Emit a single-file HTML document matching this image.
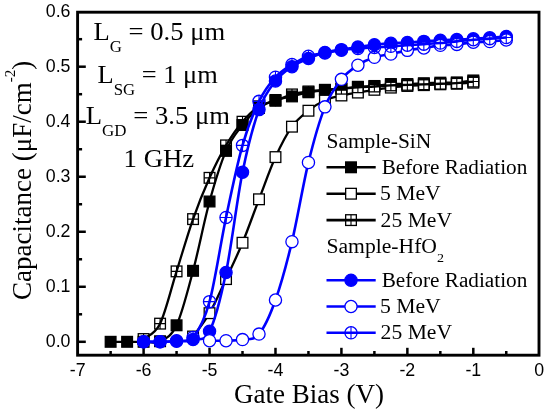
<!DOCTYPE html>
<html><head><meta charset="utf-8"><style>
html,body{margin:0;padding:0;background:#fff;}
svg{display:block;}
.tk{font-family:"Liberation Sans",Arial,sans-serif;font-size:17.8px;fill:#000;}
.lg{font-family:"Liberation Serif","Times New Roman",serif;font-size:20px;fill:#000;}
.an{font-family:"Liberation Serif","Times New Roman",serif;font-size:26px;fill:#000;}
.al{font-family:"Liberation Serif","Times New Roman",serif;font-size:27px;fill:#000;}
</style></head><body>
<svg width="550" height="411" viewBox="0 0 550 411">
<rect width="550" height="411" fill="#fff"/>
<rect x="77.6" y="12.2" width="461.4" height="343.0" fill="none" stroke="#000" stroke-width="2.9"/>
<line x1="77.6" y1="341.80" x2="85.8" y2="341.80" stroke="#000" stroke-width="2.5"/>
<text x="70.5" y="346.80" text-anchor="end" class="tk">0.0</text>
<line x1="77.6" y1="286.78" x2="85.8" y2="286.78" stroke="#000" stroke-width="2.5"/>
<text x="70.5" y="291.78" text-anchor="end" class="tk">0.1</text>
<line x1="77.6" y1="231.76" x2="85.8" y2="231.76" stroke="#000" stroke-width="2.5"/>
<text x="70.5" y="236.76" text-anchor="end" class="tk">0.2</text>
<line x1="77.6" y1="176.74" x2="85.8" y2="176.74" stroke="#000" stroke-width="2.5"/>
<text x="70.5" y="181.74" text-anchor="end" class="tk">0.3</text>
<line x1="77.6" y1="121.72" x2="85.8" y2="121.72" stroke="#000" stroke-width="2.5"/>
<text x="70.5" y="126.72" text-anchor="end" class="tk">0.4</text>
<line x1="77.6" y1="66.70" x2="85.8" y2="66.70" stroke="#000" stroke-width="2.5"/>
<text x="70.5" y="71.70" text-anchor="end" class="tk">0.5</text>
<text x="70.5" y="16.68" text-anchor="end" class="tk">0.6</text>
<line x1="77.6" y1="314.29" x2="82.1" y2="314.29" stroke="#000" stroke-width="2.5"/>
<line x1="77.6" y1="259.27" x2="82.1" y2="259.27" stroke="#000" stroke-width="2.5"/>
<line x1="77.6" y1="204.25" x2="82.1" y2="204.25" stroke="#000" stroke-width="2.5"/>
<line x1="77.6" y1="149.23" x2="82.1" y2="149.23" stroke="#000" stroke-width="2.5"/>
<line x1="77.6" y1="94.21" x2="82.1" y2="94.21" stroke="#000" stroke-width="2.5"/>
<line x1="77.6" y1="39.19" x2="82.1" y2="39.19" stroke="#000" stroke-width="2.5"/>
<text x="77.66" y="376.3" text-anchor="middle" class="tk">-7</text>
<line x1="143.60" y1="355.2" x2="143.60" y2="347.8" stroke="#000" stroke-width="2.5"/>
<text x="143.60" y="376.3" text-anchor="middle" class="tk">-6</text>
<line x1="209.54" y1="355.2" x2="209.54" y2="347.8" stroke="#000" stroke-width="2.5"/>
<text x="209.54" y="376.3" text-anchor="middle" class="tk">-5</text>
<line x1="275.48" y1="355.2" x2="275.48" y2="347.8" stroke="#000" stroke-width="2.5"/>
<text x="275.48" y="376.3" text-anchor="middle" class="tk">-4</text>
<line x1="341.42" y1="355.2" x2="341.42" y2="347.8" stroke="#000" stroke-width="2.5"/>
<text x="341.42" y="376.3" text-anchor="middle" class="tk">-3</text>
<line x1="407.36" y1="355.2" x2="407.36" y2="347.8" stroke="#000" stroke-width="2.5"/>
<text x="407.36" y="376.3" text-anchor="middle" class="tk">-2</text>
<line x1="473.30" y1="355.2" x2="473.30" y2="347.8" stroke="#000" stroke-width="2.5"/>
<text x="473.30" y="376.3" text-anchor="middle" class="tk">-1</text>
<text x="539.24" y="376.3" text-anchor="middle" class="tk">0</text>
<line x1="110.63" y1="355.2" x2="110.63" y2="351.0" stroke="#000" stroke-width="2.5"/>
<line x1="176.57" y1="355.2" x2="176.57" y2="351.0" stroke="#000" stroke-width="2.5"/>
<line x1="242.51" y1="355.2" x2="242.51" y2="351.0" stroke="#000" stroke-width="2.5"/>
<line x1="308.45" y1="355.2" x2="308.45" y2="351.0" stroke="#000" stroke-width="2.5"/>
<line x1="374.39" y1="355.2" x2="374.39" y2="351.0" stroke="#000" stroke-width="2.5"/>
<line x1="440.33" y1="355.2" x2="440.33" y2="351.0" stroke="#000" stroke-width="2.5"/>
<line x1="506.27" y1="355.2" x2="506.27" y2="351.0" stroke="#000" stroke-width="2.5"/>

<text x="93.5" y="39.6" class="an" textLength="131.7" lengthAdjust="spacingAndGlyphs">L<tspan font-size="16.5" dy="12">G</tspan><tspan dy="-12"> = 0.5 μm</tspan></text>
<text x="97.6" y="82.8" class="an" textLength="120.2" lengthAdjust="spacingAndGlyphs">L<tspan font-size="16.5" dy="12">SG</tspan><tspan dy="-12"> = 1 μm</tspan></text>
<text x="85.8" y="124.4" class="an" textLength="144.2" lengthAdjust="spacingAndGlyphs">L<tspan font-size="16.5" dy="12">GD</tspan><tspan dy="-12"> = 3.5 μm</tspan></text>
<text x="123.6" y="166.7" class="an" textLength="70.6" lengthAdjust="spacingAndGlyphs">1 GHz</text>

<path d="M110.63 341.80 C113.38 341.80 121.62 341.80 127.11 341.80 C132.61 341.80 138.10 341.89 143.60 341.80 C149.09 341.71 154.59 344.00 160.08 341.25 C165.58 338.50 171.07 337.03 176.57 325.29 C182.06 313.56 187.56 291.46 193.06 270.82 C198.55 250.19 204.04 221.49 209.54 201.50 C215.03 181.51 220.53 163.63 226.03 150.88 C231.52 138.13 237.01 132.17 242.51 125.02 C248.00 117.87 253.50 112.14 259.00 107.97 C264.49 103.79 269.99 101.91 275.48 99.99 C280.98 98.06 286.47 97.69 291.97 96.41 C297.46 95.13 302.95 93.29 308.45 92.28 C313.94 91.28 319.44 90.95 324.93 90.36 C330.43 89.76 335.92 89.30 341.42 88.71 C346.91 88.11 352.41 87.24 357.90 86.78 C363.40 86.32 368.89 86.42 374.39 85.96 C379.88 85.50 385.38 84.35 390.88 84.03 C396.37 83.71 401.87 84.17 407.36 84.03 C412.86 83.89 418.35 83.44 423.85 83.21 C429.34 82.98 434.83 82.79 440.33 82.66 C445.82 82.52 451.32 82.75 456.81 82.38 C462.31 82.01 470.55 80.78 473.30 80.45" fill="none" stroke="#000" stroke-width="2.3" stroke-linejoin="round"/>
<rect x="105.28" y="336.45" width="10.7" height="10.7" fill="#000" stroke="#000" stroke-width="1.3"/>
<rect x="121.77" y="336.45" width="10.7" height="10.7" fill="#000" stroke="#000" stroke-width="1.3"/>
<rect x="138.25" y="336.45" width="10.7" height="10.7" fill="#000" stroke="#000" stroke-width="1.3"/>
<rect x="154.73" y="335.90" width="10.7" height="10.7" fill="#000" stroke="#000" stroke-width="1.3"/>
<rect x="171.22" y="319.94" width="10.7" height="10.7" fill="#000" stroke="#000" stroke-width="1.3"/>
<rect x="187.71" y="265.47" width="10.7" height="10.7" fill="#000" stroke="#000" stroke-width="1.3"/>
<rect x="204.19" y="196.15" width="10.7" height="10.7" fill="#000" stroke="#000" stroke-width="1.3"/>
<rect x="220.68" y="145.53" width="10.7" height="10.7" fill="#000" stroke="#000" stroke-width="1.3"/>
<rect x="237.16" y="119.67" width="10.7" height="10.7" fill="#000" stroke="#000" stroke-width="1.3"/>
<rect x="253.65" y="102.62" width="10.7" height="10.7" fill="#000" stroke="#000" stroke-width="1.3"/>
<rect x="270.13" y="94.64" width="10.7" height="10.7" fill="#000" stroke="#000" stroke-width="1.3"/>
<rect x="286.62" y="91.06" width="10.7" height="10.7" fill="#000" stroke="#000" stroke-width="1.3"/>
<rect x="303.10" y="86.93" width="10.7" height="10.7" fill="#000" stroke="#000" stroke-width="1.3"/>
<rect x="319.58" y="85.01" width="10.7" height="10.7" fill="#000" stroke="#000" stroke-width="1.3"/>
<rect x="336.07" y="83.36" width="10.7" height="10.7" fill="#000" stroke="#000" stroke-width="1.3"/>
<rect x="352.55" y="81.43" width="10.7" height="10.7" fill="#000" stroke="#000" stroke-width="1.3"/>
<rect x="369.04" y="80.61" width="10.7" height="10.7" fill="#000" stroke="#000" stroke-width="1.3"/>
<rect x="385.52" y="78.68" width="10.7" height="10.7" fill="#000" stroke="#000" stroke-width="1.3"/>
<rect x="402.01" y="78.68" width="10.7" height="10.7" fill="#000" stroke="#000" stroke-width="1.3"/>
<rect x="418.50" y="77.86" width="10.7" height="10.7" fill="#000" stroke="#000" stroke-width="1.3"/>
<rect x="434.98" y="77.31" width="10.7" height="10.7" fill="#000" stroke="#000" stroke-width="1.3"/>
<rect x="451.46" y="77.03" width="10.7" height="10.7" fill="#000" stroke="#000" stroke-width="1.3"/>
<rect x="467.95" y="75.10" width="10.7" height="10.7" fill="#000" stroke="#000" stroke-width="1.3"/>
<path d="M193.06 336.52 C195.80 332.63 204.04 322.76 209.54 313.19 C215.03 303.62 220.53 290.81 226.03 279.08 C231.52 267.34 237.01 256.06 242.51 242.76 C248.00 229.47 253.50 213.58 259.00 199.30 C264.49 185.02 269.99 169.20 275.48 157.10 C280.98 144.99 286.47 134.40 291.97 126.67 C297.46 118.94 302.95 115.12 308.45 110.72 C313.94 106.31 319.44 102.80 324.93 100.26 C330.43 97.72 335.92 96.76 341.42 95.48 C346.91 94.19 352.41 93.50 357.90 92.56 C363.40 91.61 368.89 90.63 374.39 89.81 C379.88 88.98 385.38 88.25 390.88 87.61 C396.37 86.97 401.87 86.37 407.36 85.96 C412.86 85.54 418.35 85.41 423.85 85.13 C429.34 84.86 434.83 84.54 440.33 84.31 C445.82 84.08 451.32 84.03 456.81 83.76 C462.31 83.48 470.55 82.84 473.30 82.66" fill="none" stroke="#000" stroke-width="2.3" stroke-linejoin="round"/>
<rect x="187.71" y="331.17" width="10.7" height="10.7" fill="#fff" stroke="#000" stroke-width="1.3"/>
<rect x="204.19" y="307.84" width="10.7" height="10.7" fill="#fff" stroke="#000" stroke-width="1.3"/>
<rect x="220.68" y="273.73" width="10.7" height="10.7" fill="#fff" stroke="#000" stroke-width="1.3"/>
<rect x="237.16" y="237.41" width="10.7" height="10.7" fill="#fff" stroke="#000" stroke-width="1.3"/>
<rect x="253.65" y="193.95" width="10.7" height="10.7" fill="#fff" stroke="#000" stroke-width="1.3"/>
<rect x="270.13" y="151.75" width="10.7" height="10.7" fill="#fff" stroke="#000" stroke-width="1.3"/>
<rect x="286.62" y="121.32" width="10.7" height="10.7" fill="#fff" stroke="#000" stroke-width="1.3"/>
<rect x="303.10" y="105.37" width="10.7" height="10.7" fill="#fff" stroke="#000" stroke-width="1.3"/>
<rect x="319.58" y="94.91" width="10.7" height="10.7" fill="#fff" stroke="#000" stroke-width="1.3"/>
<rect x="336.07" y="90.13" width="10.7" height="10.7" fill="#fff" stroke="#000" stroke-width="1.3"/>
<rect x="352.55" y="87.21" width="10.7" height="10.7" fill="#fff" stroke="#000" stroke-width="1.3"/>
<rect x="369.04" y="84.46" width="10.7" height="10.7" fill="#fff" stroke="#000" stroke-width="1.3"/>
<rect x="385.52" y="82.26" width="10.7" height="10.7" fill="#fff" stroke="#000" stroke-width="1.3"/>
<rect x="402.01" y="80.61" width="10.7" height="10.7" fill="#fff" stroke="#000" stroke-width="1.3"/>
<rect x="418.50" y="79.78" width="10.7" height="10.7" fill="#fff" stroke="#000" stroke-width="1.3"/>
<rect x="434.98" y="78.96" width="10.7" height="10.7" fill="#fff" stroke="#000" stroke-width="1.3"/>
<rect x="451.46" y="78.41" width="10.7" height="10.7" fill="#fff" stroke="#000" stroke-width="1.3"/>
<rect x="467.95" y="77.31" width="10.7" height="10.7" fill="#fff" stroke="#000" stroke-width="1.3"/>
<path d="M143.60 339.05 C146.35 336.48 154.59 334.92 160.08 323.64 C165.58 312.36 171.07 288.80 176.57 271.37 C182.06 253.95 187.56 234.69 193.06 219.11 C198.55 203.52 204.04 190.13 209.54 177.84 C215.03 165.55 220.53 154.73 226.03 145.38 C231.52 136.03 237.01 128.23 242.51 121.72 C248.00 115.21 253.50 109.80 259.00 106.31 C264.49 102.83 269.99 102.79 275.48 100.81 C280.98 98.83 286.47 95.99 291.97 94.43 C297.46 92.87 302.95 92.23 308.45 91.46 C313.94 90.69 319.44 90.27 324.93 89.81 C330.43 89.35 335.92 89.13 341.42 88.71 C346.91 88.29 352.41 87.64 357.90 87.28 C363.40 86.91 368.89 86.82 374.39 86.51 C379.88 86.20 385.38 85.68 390.88 85.41 C396.37 85.13 401.87 85.04 407.36 84.86 C412.86 84.67 418.35 84.49 423.85 84.31 C429.34 84.12 434.83 83.94 440.33 83.76 C445.82 83.57 451.32 83.57 456.81 83.21 C462.31 82.84 470.55 81.83 473.30 81.56" fill="none" stroke="#000" stroke-width="2.3" stroke-linejoin="round"/>
<rect x="138.25" y="333.70" width="10.7" height="10.7" fill="none" stroke="#000" stroke-width="1.3"/><path d="M138.25 339.05H148.95M143.60 333.70V344.40" stroke="#000" stroke-width="1.1"/>
<rect x="154.73" y="318.29" width="10.7" height="10.7" fill="none" stroke="#000" stroke-width="1.3"/><path d="M154.73 323.64H165.43M160.08 318.29V328.99" stroke="#000" stroke-width="1.1"/>
<rect x="171.22" y="266.02" width="10.7" height="10.7" fill="none" stroke="#000" stroke-width="1.3"/><path d="M171.22 271.37H181.92M176.57 266.02V276.72" stroke="#000" stroke-width="1.1"/>
<rect x="187.71" y="213.76" width="10.7" height="10.7" fill="none" stroke="#000" stroke-width="1.3"/><path d="M187.71 219.11H198.41M193.06 213.76V224.46" stroke="#000" stroke-width="1.1"/>
<rect x="204.19" y="172.49" width="10.7" height="10.7" fill="none" stroke="#000" stroke-width="1.3"/><path d="M204.19 177.84H214.89M209.54 172.49V183.19" stroke="#000" stroke-width="1.1"/>
<rect x="220.68" y="140.03" width="10.7" height="10.7" fill="none" stroke="#000" stroke-width="1.3"/><path d="M220.68 145.38H231.38M226.03 140.03V150.73" stroke="#000" stroke-width="1.1"/>
<rect x="237.16" y="116.37" width="10.7" height="10.7" fill="none" stroke="#000" stroke-width="1.3"/><path d="M237.16 121.72H247.86M242.51 116.37V127.07" stroke="#000" stroke-width="1.1"/>
<rect x="253.65" y="100.96" width="10.7" height="10.7" fill="none" stroke="#000" stroke-width="1.3"/><path d="M253.65 106.31H264.35M259.00 100.96V111.66" stroke="#000" stroke-width="1.1"/>
<rect x="270.13" y="95.46" width="10.7" height="10.7" fill="none" stroke="#000" stroke-width="1.3"/><path d="M270.13 100.81H280.83M275.48 95.46V106.16" stroke="#000" stroke-width="1.1"/>
<rect x="286.62" y="89.08" width="10.7" height="10.7" fill="none" stroke="#000" stroke-width="1.3"/><path d="M286.62 94.43H297.32M291.97 89.08V99.78" stroke="#000" stroke-width="1.1"/>
<rect x="303.10" y="86.11" width="10.7" height="10.7" fill="none" stroke="#000" stroke-width="1.3"/><path d="M303.10 91.46H313.80M308.45 86.11V96.81" stroke="#000" stroke-width="1.1"/>
<rect x="319.58" y="84.46" width="10.7" height="10.7" fill="none" stroke="#000" stroke-width="1.3"/><path d="M319.58 89.81H330.28M324.93 84.46V95.16" stroke="#000" stroke-width="1.1"/>
<rect x="336.07" y="83.36" width="10.7" height="10.7" fill="none" stroke="#000" stroke-width="1.3"/><path d="M336.07 88.71H346.77M341.42 83.36V94.06" stroke="#000" stroke-width="1.1"/>
<rect x="352.55" y="81.93" width="10.7" height="10.7" fill="none" stroke="#000" stroke-width="1.3"/><path d="M352.55 87.28H363.25M357.90 81.93V92.63" stroke="#000" stroke-width="1.1"/>
<rect x="369.04" y="81.16" width="10.7" height="10.7" fill="none" stroke="#000" stroke-width="1.3"/><path d="M369.04 86.51H379.74M374.39 81.16V91.86" stroke="#000" stroke-width="1.1"/>
<rect x="385.52" y="80.06" width="10.7" height="10.7" fill="none" stroke="#000" stroke-width="1.3"/><path d="M385.52 85.41H396.23M390.88 80.06V90.76" stroke="#000" stroke-width="1.1"/>
<rect x="402.01" y="79.51" width="10.7" height="10.7" fill="none" stroke="#000" stroke-width="1.3"/><path d="M402.01 84.86H412.71M407.36 79.51V90.21" stroke="#000" stroke-width="1.1"/>
<rect x="418.50" y="78.96" width="10.7" height="10.7" fill="none" stroke="#000" stroke-width="1.3"/><path d="M418.50 84.31H429.20M423.85 78.96V89.66" stroke="#000" stroke-width="1.1"/>
<rect x="434.98" y="78.41" width="10.7" height="10.7" fill="none" stroke="#000" stroke-width="1.3"/><path d="M434.98 83.76H445.68M440.33 78.41V89.11" stroke="#000" stroke-width="1.1"/>
<rect x="451.46" y="77.86" width="10.7" height="10.7" fill="none" stroke="#000" stroke-width="1.3"/><path d="M451.46 83.21H462.16M456.81 77.86V88.56" stroke="#000" stroke-width="1.1"/>
<rect x="467.95" y="76.21" width="10.7" height="10.7" fill="none" stroke="#000" stroke-width="1.3"/><path d="M467.95 81.56H478.65M473.30 76.21V86.91" stroke="#000" stroke-width="1.1"/>
<path d="M143.60 341.80 C146.35 341.80 154.59 341.89 160.08 341.80 C165.58 341.71 171.07 341.62 176.57 341.25 C182.06 340.88 187.56 341.25 193.06 339.60 C198.55 337.95 204.04 342.53 209.54 331.35 C215.03 320.16 220.53 298.98 226.03 272.47 C231.52 245.97 237.01 199.48 242.51 172.34 C248.00 145.20 253.50 124.84 259.00 109.62 C264.49 94.39 269.99 88.16 275.48 81.01 C280.98 73.85 286.47 70.46 291.97 66.70 C297.46 62.94 302.95 60.80 308.45 58.45 C313.94 56.09 319.44 54.03 324.93 52.56 C330.43 51.09 335.92 50.55 341.42 49.64 C346.91 48.74 352.41 47.94 357.90 47.11 C363.40 46.29 368.89 45.32 374.39 44.69 C379.88 44.06 385.38 43.69 390.88 43.32 C396.37 42.94 401.87 42.76 407.36 42.44 C412.86 42.12 418.35 41.74 423.85 41.39 C429.34 41.04 434.83 40.65 440.33 40.35 C445.82 40.04 451.32 39.84 456.81 39.58 C462.31 39.31 467.80 39.05 473.30 38.75 C478.79 38.45 484.29 38.14 489.78 37.76 C495.28 37.37 503.52 36.66 506.27 36.44" fill="none" stroke="#0000ff" stroke-width="2.6" stroke-linejoin="round"/>
<circle cx="143.60" cy="341.80" r="6.1" fill="#0000ff" stroke="#0000ff" stroke-width="1.3"/>
<circle cx="160.08" cy="341.80" r="6.1" fill="#0000ff" stroke="#0000ff" stroke-width="1.3"/>
<circle cx="176.57" cy="341.25" r="6.1" fill="#0000ff" stroke="#0000ff" stroke-width="1.3"/>
<circle cx="193.06" cy="339.60" r="6.1" fill="#0000ff" stroke="#0000ff" stroke-width="1.3"/>
<circle cx="209.54" cy="331.35" r="6.1" fill="#0000ff" stroke="#0000ff" stroke-width="1.3"/>
<circle cx="226.03" cy="272.47" r="6.1" fill="#0000ff" stroke="#0000ff" stroke-width="1.3"/>
<circle cx="242.51" cy="172.34" r="6.1" fill="#0000ff" stroke="#0000ff" stroke-width="1.3"/>
<circle cx="259.00" cy="109.62" r="6.1" fill="#0000ff" stroke="#0000ff" stroke-width="1.3"/>
<circle cx="275.48" cy="81.01" r="6.1" fill="#0000ff" stroke="#0000ff" stroke-width="1.3"/>
<circle cx="291.97" cy="66.70" r="6.1" fill="#0000ff" stroke="#0000ff" stroke-width="1.3"/>
<circle cx="308.45" cy="58.45" r="6.1" fill="#0000ff" stroke="#0000ff" stroke-width="1.3"/>
<circle cx="324.93" cy="52.56" r="6.1" fill="#0000ff" stroke="#0000ff" stroke-width="1.3"/>
<circle cx="341.42" cy="49.64" r="6.1" fill="#0000ff" stroke="#0000ff" stroke-width="1.3"/>
<circle cx="357.90" cy="47.11" r="6.1" fill="#0000ff" stroke="#0000ff" stroke-width="1.3"/>
<circle cx="374.39" cy="44.69" r="6.1" fill="#0000ff" stroke="#0000ff" stroke-width="1.3"/>
<circle cx="390.88" cy="43.32" r="6.1" fill="#0000ff" stroke="#0000ff" stroke-width="1.3"/>
<circle cx="407.36" cy="42.44" r="6.1" fill="#0000ff" stroke="#0000ff" stroke-width="1.3"/>
<circle cx="423.85" cy="41.39" r="6.1" fill="#0000ff" stroke="#0000ff" stroke-width="1.3"/>
<circle cx="440.33" cy="40.35" r="6.1" fill="#0000ff" stroke="#0000ff" stroke-width="1.3"/>
<circle cx="456.81" cy="39.58" r="6.1" fill="#0000ff" stroke="#0000ff" stroke-width="1.3"/>
<circle cx="473.30" cy="38.75" r="6.1" fill="#0000ff" stroke="#0000ff" stroke-width="1.3"/>
<circle cx="489.78" cy="37.76" r="6.1" fill="#0000ff" stroke="#0000ff" stroke-width="1.3"/>
<circle cx="506.27" cy="36.44" r="6.1" fill="#0000ff" stroke="#0000ff" stroke-width="1.3"/>
<path d="M209.54 340.70 C212.29 340.70 220.53 340.88 226.03 340.70 C231.52 340.52 237.01 340.70 242.51 339.60 C248.00 338.50 253.50 340.70 259.00 334.10 C264.49 327.49 269.99 315.39 275.48 299.98 C280.98 284.58 286.47 264.59 291.97 241.66 C297.46 218.74 302.95 184.90 308.45 162.43 C313.94 139.97 319.44 120.71 324.93 106.86 C330.43 93.02 335.92 86.30 341.42 79.35 C346.91 72.41 352.41 68.88 357.90 65.21 C363.40 61.55 368.89 59.21 374.39 57.35 C379.88 55.49 385.38 55.21 390.88 54.05 C396.37 52.88 401.87 51.37 407.36 50.36 C412.86 49.35 418.35 48.83 423.85 47.99 C429.34 47.16 434.83 45.95 440.33 45.35 C445.82 44.76 451.32 44.94 456.81 44.42 C462.31 43.89 467.80 42.69 473.30 42.22 C478.79 41.74 484.29 41.93 489.78 41.56 C495.28 41.18 503.52 40.23 506.27 39.96" fill="none" stroke="#0000ff" stroke-width="2.6" stroke-linejoin="round"/>
<circle cx="209.54" cy="340.70" r="6.1" fill="#fff" stroke="#0000ff" stroke-width="1.3"/>
<circle cx="226.03" cy="340.70" r="6.1" fill="#fff" stroke="#0000ff" stroke-width="1.3"/>
<circle cx="242.51" cy="339.60" r="6.1" fill="#fff" stroke="#0000ff" stroke-width="1.3"/>
<circle cx="259.00" cy="334.10" r="6.1" fill="#fff" stroke="#0000ff" stroke-width="1.3"/>
<circle cx="275.48" cy="299.98" r="6.1" fill="#fff" stroke="#0000ff" stroke-width="1.3"/>
<circle cx="291.97" cy="241.66" r="6.1" fill="#fff" stroke="#0000ff" stroke-width="1.3"/>
<circle cx="308.45" cy="162.43" r="6.1" fill="#fff" stroke="#0000ff" stroke-width="1.3"/>
<circle cx="324.93" cy="106.86" r="6.1" fill="#fff" stroke="#0000ff" stroke-width="1.3"/>
<circle cx="341.42" cy="79.35" r="6.1" fill="#fff" stroke="#0000ff" stroke-width="1.3"/>
<circle cx="357.90" cy="65.21" r="6.1" fill="#fff" stroke="#0000ff" stroke-width="1.3"/>
<circle cx="374.39" cy="57.35" r="6.1" fill="#fff" stroke="#0000ff" stroke-width="1.3"/>
<circle cx="390.88" cy="54.05" r="6.1" fill="#fff" stroke="#0000ff" stroke-width="1.3"/>
<circle cx="407.36" cy="50.36" r="6.1" fill="#fff" stroke="#0000ff" stroke-width="1.3"/>
<circle cx="423.85" cy="47.99" r="6.1" fill="#fff" stroke="#0000ff" stroke-width="1.3"/>
<circle cx="440.33" cy="45.35" r="6.1" fill="#fff" stroke="#0000ff" stroke-width="1.3"/>
<circle cx="456.81" cy="44.42" r="6.1" fill="#fff" stroke="#0000ff" stroke-width="1.3"/>
<circle cx="473.30" cy="42.22" r="6.1" fill="#fff" stroke="#0000ff" stroke-width="1.3"/>
<circle cx="489.78" cy="41.56" r="6.1" fill="#fff" stroke="#0000ff" stroke-width="1.3"/>
<circle cx="506.27" cy="39.96" r="6.1" fill="#fff" stroke="#0000ff" stroke-width="1.3"/>
<path d="M143.60 341.80 C146.35 341.80 154.59 341.98 160.08 341.80 C165.58 341.62 171.07 341.43 176.57 340.70 C182.06 339.97 187.56 343.91 193.06 337.40 C198.55 330.89 204.04 321.63 209.54 301.64 C215.03 281.64 220.53 243.50 226.03 217.45 C231.52 191.41 237.01 164.73 242.51 145.38 C248.00 126.03 253.50 112.73 259.00 101.36 C264.49 89.99 269.99 83.30 275.48 77.15 C280.98 71.01 286.47 67.98 291.97 64.50 C297.46 61.01 302.95 58.17 308.45 56.25 C313.94 54.32 319.44 53.95 324.93 52.94 C330.43 51.94 335.92 50.93 341.42 50.19 C346.91 49.46 352.41 49.00 357.90 48.54 C363.40 48.08 368.89 47.81 374.39 47.44 C379.88 47.08 385.38 46.71 390.88 46.34 C396.37 45.98 401.87 45.61 407.36 45.24 C412.86 44.88 418.35 44.51 423.85 44.14 C429.34 43.77 434.83 43.50 440.33 43.04 C445.82 42.58 451.32 41.94 456.81 41.39 C462.31 40.84 467.80 40.20 473.30 39.74 C478.79 39.28 484.29 39.01 489.78 38.64 C495.28 38.27 503.52 37.72 506.27 37.54" fill="none" stroke="#0000ff" stroke-width="2.6" stroke-linejoin="round"/>
<circle cx="143.60" cy="341.80" r="6.1" fill="none" stroke="#0000ff" stroke-width="1.3"/><path d="M137.50 341.80H149.70M143.60 335.70V347.90" stroke="#0000ff" stroke-width="1.1"/>
<circle cx="160.08" cy="341.80" r="6.1" fill="none" stroke="#0000ff" stroke-width="1.3"/><path d="M153.98 341.80H166.18M160.08 335.70V347.90" stroke="#0000ff" stroke-width="1.1"/>
<circle cx="176.57" cy="340.70" r="6.1" fill="none" stroke="#0000ff" stroke-width="1.3"/><path d="M170.47 340.70H182.67M176.57 334.60V346.80" stroke="#0000ff" stroke-width="1.1"/>
<circle cx="193.06" cy="337.40" r="6.1" fill="none" stroke="#0000ff" stroke-width="1.3"/><path d="M186.96 337.40H199.16M193.06 331.30V343.50" stroke="#0000ff" stroke-width="1.1"/>
<circle cx="209.54" cy="301.64" r="6.1" fill="none" stroke="#0000ff" stroke-width="1.3"/><path d="M203.44 301.64H215.64M209.54 295.54V307.74" stroke="#0000ff" stroke-width="1.1"/>
<circle cx="226.03" cy="217.45" r="6.1" fill="none" stroke="#0000ff" stroke-width="1.3"/><path d="M219.93 217.45H232.12M226.03 211.35V223.55" stroke="#0000ff" stroke-width="1.1"/>
<circle cx="242.51" cy="145.38" r="6.1" fill="none" stroke="#0000ff" stroke-width="1.3"/><path d="M236.41 145.38H248.61M242.51 139.28V151.48" stroke="#0000ff" stroke-width="1.1"/>
<circle cx="259.00" cy="101.36" r="6.1" fill="none" stroke="#0000ff" stroke-width="1.3"/><path d="M252.90 101.36H265.10M259.00 95.26V107.46" stroke="#0000ff" stroke-width="1.1"/>
<circle cx="275.48" cy="77.15" r="6.1" fill="none" stroke="#0000ff" stroke-width="1.3"/><path d="M269.38 77.15H281.58M275.48 71.05V83.25" stroke="#0000ff" stroke-width="1.1"/>
<circle cx="291.97" cy="64.50" r="6.1" fill="none" stroke="#0000ff" stroke-width="1.3"/><path d="M285.87 64.50H298.07M291.97 58.40V70.60" stroke="#0000ff" stroke-width="1.1"/>
<circle cx="308.45" cy="56.25" r="6.1" fill="none" stroke="#0000ff" stroke-width="1.3"/><path d="M302.35 56.25H314.55M308.45 50.15V62.35" stroke="#0000ff" stroke-width="1.1"/>
<circle cx="324.93" cy="52.94" r="6.1" fill="none" stroke="#0000ff" stroke-width="1.3"/><path d="M318.83 52.94H331.03M324.93 46.84V59.04" stroke="#0000ff" stroke-width="1.1"/>
<circle cx="341.42" cy="50.19" r="6.1" fill="none" stroke="#0000ff" stroke-width="1.3"/><path d="M335.32 50.19H347.52M341.42 44.09V56.29" stroke="#0000ff" stroke-width="1.1"/>
<circle cx="357.90" cy="48.54" r="6.1" fill="none" stroke="#0000ff" stroke-width="1.3"/><path d="M351.80 48.54H364.00M357.90 42.44V54.64" stroke="#0000ff" stroke-width="1.1"/>
<circle cx="374.39" cy="47.44" r="6.1" fill="none" stroke="#0000ff" stroke-width="1.3"/><path d="M368.29 47.44H380.49M374.39 41.34V53.54" stroke="#0000ff" stroke-width="1.1"/>
<circle cx="390.88" cy="46.34" r="6.1" fill="none" stroke="#0000ff" stroke-width="1.3"/><path d="M384.77 46.34H396.98M390.88 40.24V52.44" stroke="#0000ff" stroke-width="1.1"/>
<circle cx="407.36" cy="45.24" r="6.1" fill="none" stroke="#0000ff" stroke-width="1.3"/><path d="M401.26 45.24H413.46M407.36 39.14V51.34" stroke="#0000ff" stroke-width="1.1"/>
<circle cx="423.85" cy="44.14" r="6.1" fill="none" stroke="#0000ff" stroke-width="1.3"/><path d="M417.75 44.14H429.95M423.85 38.04V50.24" stroke="#0000ff" stroke-width="1.1"/>
<circle cx="440.33" cy="43.04" r="6.1" fill="none" stroke="#0000ff" stroke-width="1.3"/><path d="M434.23 43.04H446.43M440.33 36.94V49.14" stroke="#0000ff" stroke-width="1.1"/>
<circle cx="456.81" cy="41.39" r="6.1" fill="none" stroke="#0000ff" stroke-width="1.3"/><path d="M450.71 41.39H462.91M456.81 35.29V47.49" stroke="#0000ff" stroke-width="1.1"/>
<circle cx="473.30" cy="39.74" r="6.1" fill="none" stroke="#0000ff" stroke-width="1.3"/><path d="M467.20 39.74H479.40M473.30 33.64V45.84" stroke="#0000ff" stroke-width="1.1"/>
<circle cx="489.78" cy="38.64" r="6.1" fill="none" stroke="#0000ff" stroke-width="1.3"/><path d="M483.68 38.64H495.88M489.78 32.54V44.74" stroke="#0000ff" stroke-width="1.1"/>
<circle cx="506.27" cy="37.54" r="6.1" fill="none" stroke="#0000ff" stroke-width="1.3"/><path d="M500.17 37.54H512.37M506.27 31.44V43.64" stroke="#0000ff" stroke-width="1.1"/>
<text x="326.5" y="147.9" class="lg" textLength="104.8" lengthAdjust="spacingAndGlyphs">Sample-SiN</text>
<line x1="326.5" y1="167.3" x2="375.7" y2="167.3" stroke="#000" stroke-width="2.6"/><rect x="345.65" y="161.95" width="10.7" height="10.7" fill="#000" stroke="#000" stroke-width="1.3"/><text x="381.7" y="173.9" class="lg" textLength="145.6" lengthAdjust="spacingAndGlyphs">Before Radiation</text>
<line x1="326.5" y1="193.7" x2="375.7" y2="193.7" stroke="#000" stroke-width="2.6"/><rect x="345.65" y="188.35" width="10.7" height="10.7" fill="#fff" stroke="#000" stroke-width="1.3"/><text x="379.9" y="200.3" class="lg" textLength="60.8" lengthAdjust="spacingAndGlyphs">5 MeV</text>
<line x1="326.5" y1="220.1" x2="375.7" y2="220.1" stroke="#000" stroke-width="2.6"/><rect x="345.65" y="214.75" width="10.7" height="10.7" fill="none" stroke="#000" stroke-width="1.3"/><path d="M345.65 220.10H356.35M351.00 214.75V225.45" stroke="#000" stroke-width="1.1"/><text x="380.6" y="226.7" class="lg" textLength="71.5" lengthAdjust="spacingAndGlyphs">25 MeV</text>
<text x="326.5" y="253" class="lg" textLength="117.5" lengthAdjust="spacingAndGlyphs">Sample-HfO<tspan font-size="13" dy="8.6">2</tspan></text>
<line x1="326.5" y1="280.2" x2="375.7" y2="280.2" stroke="#0000ff" stroke-width="2.6"/><circle cx="351.00" cy="280.20" r="6.1" fill="#0000ff" stroke="#0000ff" stroke-width="1.3"/><text x="381.7" y="286.5" class="lg" textLength="145.6" lengthAdjust="spacingAndGlyphs">Before Radiation</text>
<line x1="326.5" y1="306.5" x2="375.7" y2="306.5" stroke="#0000ff" stroke-width="2.6"/><circle cx="351.00" cy="306.50" r="6.1" fill="#fff" stroke="#0000ff" stroke-width="1.3"/><text x="379.9" y="312.8" class="lg" textLength="60.8" lengthAdjust="spacingAndGlyphs">5 MeV</text>
<line x1="326.5" y1="332.8" x2="375.7" y2="332.8" stroke="#0000ff" stroke-width="2.6"/><circle cx="351.00" cy="332.80" r="6.1" fill="none" stroke="#0000ff" stroke-width="1.3"/><path d="M344.90 332.80H357.10M351.00 326.70V338.90" stroke="#0000ff" stroke-width="1.1"/><text x="380.6" y="339.3" class="lg" textLength="71.5" lengthAdjust="spacingAndGlyphs">25 MeV</text>

<text x="234" y="403.1" class="al">Gate Bias (V)</text>
<text transform="translate(30.6,300) rotate(-90)" class="al">Capacitance (μF/cm<tspan font-size="15" dy="-16">-2</tspan><tspan dy="16">)</tspan></text>

</svg>
</body></html>
